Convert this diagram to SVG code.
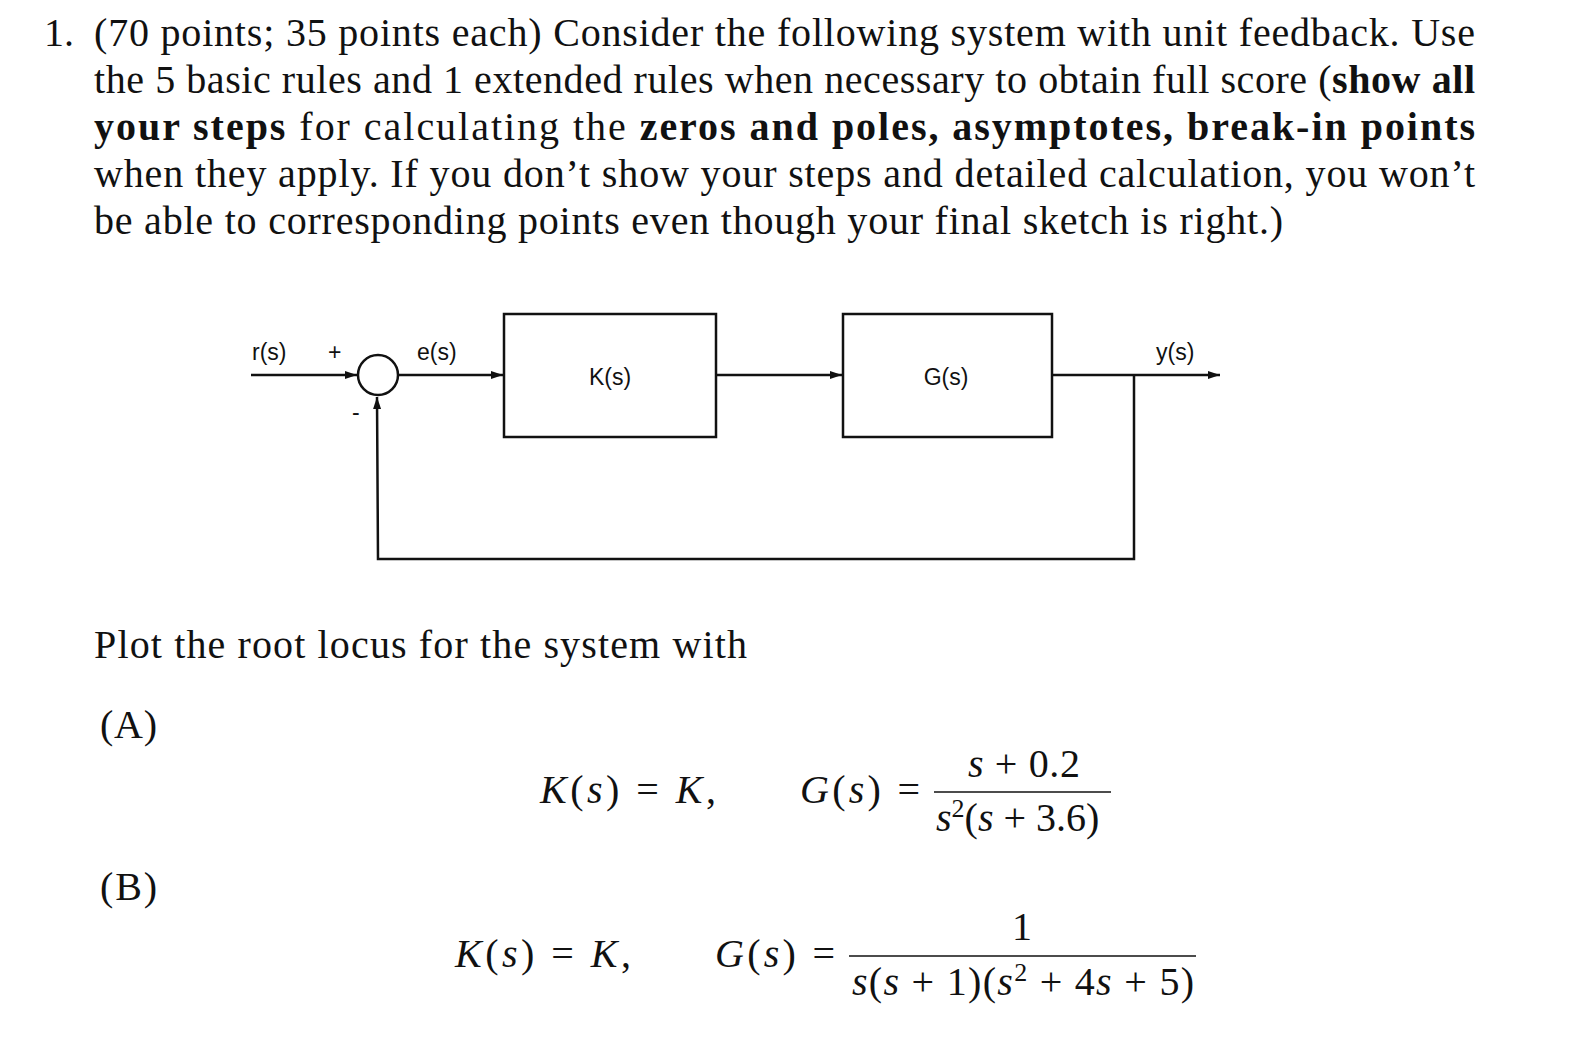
<svg xmlns="http://www.w3.org/2000/svg" width="1596" height="1042" viewBox="0 0 1596 1042">
<style>
.t{font-family:"Liberation Serif",serif;font-size:40px;fill:#111}
.b{font-weight:bold}
.s{font-family:"Liberation Sans",Arial,sans-serif;font-size:23px;fill:#111}
.m{font-family:"Liberation Serif",serif;font-size:40px;fill:#111}
.i{font-style:italic}
.ln{stroke:#111;stroke-width:2.5;fill:none}
</style>
<defs><marker id="a" markerWidth="12" markerHeight="8" refX="12" refY="4" orient="auto" markerUnits="userSpaceOnUse"><path d="M0,0 L12,4 L0,8 z" fill="#111"/></marker></defs>
<rect width="1596" height="1042" fill="#fff"/>
<text class="t" x="44" y="46">1.</text>
<text class="t" x="94" y="46" textLength="1381">(70 points; 35 points each) Consider the following system with unit feedback. Use</text>
<text class="t" x="94" y="93" textLength="1381">the 5 basic rules and 1 extended rules when necessary to obtain full score (<tspan class="b">show all</tspan></text>
<text class="t" x="94" y="140" textLength="1381"><tspan class="b">your steps</tspan> for calculating the <tspan class="b">zeros and poles, asymptotes, break-in points</tspan></text>
<text class="t" x="94" y="187" textLength="1381">when they apply. If you don’t show your steps and detailed calculation, you won’t</text>
<text class="t" x="94" y="234" textLength="1189">be able to corresponding points even though your final sketch is right.)</text>
<g id="connectors">
<line class="ln" x1="251" y1="375" x2="357" y2="375" marker-end="url(#a)"/>
<line class="ln" x1="399" y1="375" x2="503" y2="375" marker-end="url(#a)"/>
<line class="ln" x1="716" y1="375" x2="842" y2="375" marker-end="url(#a)"/>
<line class="ln" x1="1052" y1="375" x2="1220" y2="375" marker-end="url(#a)"/>
<polyline class="ln" points="1134,375 1134,559 378,559 377,397" marker-end="url(#a)"/>
</g>
<g id="sum"><circle class="ln" cx="378" cy="375" r="20"/>
<text class="s" x="328" y="360">+</text><text class="s" x="352" y="420">-</text></g>
<g id="K"><rect class="ln" x="504" y="314" width="212" height="123"/><text class="s" x="610" y="385" text-anchor="middle" font-size="28">K(s)</text></g>
<g id="G"><rect class="ln" x="843" y="314" width="209" height="123"/><text class="s" x="946" y="385" text-anchor="middle" font-size="28">G(s)</text></g>
<text class="s" x="252" y="360">r(s)</text>
<text class="s" x="417" y="360">e(s)</text>
<text class="s" x="1156" y="360">y(s)</text>
<text class="t" x="94" y="658" textLength="653">Plot the root locus for the system with</text>
<text class="t" x="100" y="738" textLength="57">(A)</text>
<text class="t" x="100" y="900" textLength="57">(B)</text>
<text class="m" x="540" y="803" textLength="176"><tspan class="i">K</tspan>(<tspan class="i">s</tspan>) = <tspan class="i">K</tspan>,</text>
<text class="m" x="800" y="803" textLength="120"><tspan class="i">G</tspan>(<tspan class="i">s</tspan>) =</text>
<text class="m" x="968" y="777" textLength="112"><tspan class="i">s</tspan> + 0.2</text>
<line x1="934" y1="792" x2="1111" y2="792" stroke="#111" stroke-width="1.5"/>
<text class="m" x="936" y="831"><tspan class="i">s</tspan><tspan font-size="26" dy="-14">2</tspan><tspan dy="14">(</tspan><tspan class="i">s</tspan> + 3.6)</text>
<text class="m" x="455" y="967" textLength="176"><tspan class="i">K</tspan>(<tspan class="i">s</tspan>) = <tspan class="i">K</tspan>,</text>
<text class="m" x="715" y="967" textLength="120"><tspan class="i">G</tspan>(<tspan class="i">s</tspan>) =</text>
<text class="m" x="1022" y="940" text-anchor="middle">1</text>
<line x1="849" y1="956" x2="1196" y2="956" stroke="#111" stroke-width="1.5"/>
<text class="m" x="852" y="995" textLength="342"><tspan class="i">s</tspan>(<tspan class="i">s</tspan> + 1)(<tspan class="i">s</tspan><tspan font-size="26" dy="-14">2</tspan><tspan dy="14"> + 4</tspan><tspan class="i">s</tspan> + 5)</text>
</svg>
